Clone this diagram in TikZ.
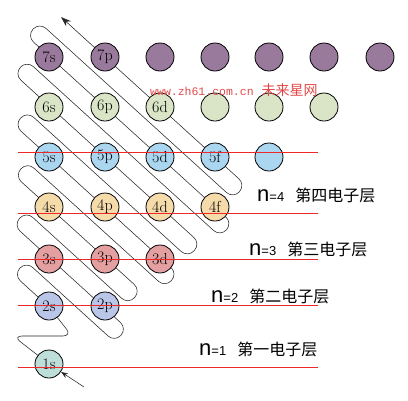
\documentclass[tikz,border=0pt]{standalone}
\usepackage{fontspec}
\usetikzlibrary{arrows.meta}
\newfontfamily\cjk{Noto Sans CJK SC}
\newfontfamily\arial{Liberation Sans}
\newfontfamily\wmfont{Liberation Mono}
\definecolor{orbseven}{RGB}{154,122,156}
\definecolor{orbsix}{RGB}{218,229,200}
\definecolor{orbfive}{RGB}{170,214,240}
\definecolor{orbfour}{RGB}{245,218,170}
\definecolor{orbthree}{RGB}{228,160,160}
\definecolor{orbtwo}{RGB}{185,198,232}
\definecolor{orbone}{RGB}{190,222,218}
\definecolor{shellred}{RGB}{236,40,40}
\definecolor{markred}{RGB}{226,72,72}
\newcommand{\shelltext}[2]{{\arial\fontsize{22}{22}\selectfont n}{\arial\fontsize{13}{13}\selectfont =#1}\hspace{11pt}{\cjk\fontsize{16}{16}\selectfont #2}}
\begin{document}
\begin{tikzpicture}[x=1pt,y=-1pt,
    orb/.style={circle,draw=black,line width=0.8pt,minimum size=28pt,inner sep=0pt,font=\fontsize{16}{16}\selectfont},
    aufbau/.style={line width=0.55pt,draw=black!85,rounded corners=9pt},
    shell/.style={draw=shellred,line width=1.1pt},
    lbl/.style={anchor=base west,inner sep=0pt}]
    \useasboundingbox (0,0) rectangle (408,400);
    % filling order path (drawn under the orbitals)
    \draw[aufbau,-{Stealth[length=10pt,width=7pt]}] (49,364) -- (13,336) -- (72,336) -- (49,307)
        -- (13.7,274.9) -- (26.0,261.4) -- (114.8,342.1) -- (127.1,328.5)
        -- (13.4,225.1) -- (26.0,211.3) -- (128.4,304.4) -- (140.9,290.5)
        -- (14.6,175.7) -- (27.2,162.0) -- (165.2,287.4) -- (177.7,273.6)
        -- (14.3,125.1) -- (26.9,111.2) -- (187.9,257.6) -- (200.6,243.6)
        -- (14.2,74.1) -- (26.6,60.5) -- (220.3,236.6) -- (232.6,223.1)
        -- (26.8,36.0) -- (39.3,22.3) -- (233.2,198.6) -- (245.6,184.9)
        -- (61.1,17.1);
    \node[orb,fill=orbseven] (s7) at (49,57) {7s};
    \node[orb,fill=orbseven] (p7) at (105,57) {7p};
    \node[orb,fill=orbseven] (d7) at (160,57) {};
    \node[orb,fill=orbseven] (f7) at (215,57) {};
    \node[orb,fill=orbseven] (g7) at (269,57) {};
    \node[orb,fill=orbseven] (h7) at (324,57) {};
    \node[orb,fill=orbseven] (i7) at (380,57) {};
    \node[orb,fill=orbsix] (s6) at (49,107) {6s};
    \node[orb,fill=orbsix] (p6) at (105,107) {6p};
    \node[orb,fill=orbsix] (d6) at (160,107) {6d};
    \node[orb,fill=orbsix] (f6) at (215,107) {};
    \node[orb,fill=orbsix] (g6) at (269,107) {};
    \node[orb,fill=orbsix] (h6) at (324,107) {};
    \node[orb,fill=orbfive] (s5) at (49,157) {5s};
    \node[orb,fill=orbfive] (p5) at (105,157) {5p};
    \node[orb,fill=orbfive] (d5) at (160,157) {5d};
    \node[orb,fill=orbfive] (f5) at (215,157) {5f};
    \node[orb,fill=orbfive] (g5) at (269,157) {};
    \node[orb,fill=orbfour] (s4) at (49,207) {4s};
    \node[orb,fill=orbfour] (p4) at (105,207) {4p};
    \node[orb,fill=orbfour] (d4) at (160,207) {4d};
    \node[orb,fill=orbfour] (f4) at (215,207) {4f};
    \node[orb,fill=orbthree] (s3) at (49,259) {3s};
    \node[orb,fill=orbthree] (p3) at (105,259) {3p};
    \node[orb,fill=orbthree] (d3) at (160,259) {3d};
    \node[orb,fill=orbtwo] (s2) at (49,306) {2s};
    \node[orb,fill=orbtwo] (p2) at (105,306) {2p};
    \node[orb,fill=orbone] (s1) at (49,364) {1s};
    \coordinate (start) at (84,387);
    \draw[aufbau,-{Stealth[length=7pt,width=5pt]}] (start) -- (s1);
    % shell lines
    \draw[shell] (18,152.5) -- (318,152.5);
    \draw[shell] (18,213.5) -- (318,213.5);
    \draw[shell] (18,259.5) -- (318,259.5);
    \draw[shell] (18,305.5) -- (318,305.5);
    \draw[shell] (18,367.5) -- (318,367.5);
    \node[lbl] (n4) at (257,201) {\shelltext{4}{第四电子层}};
    \node[lbl] (n3) at (249,255) {\shelltext{3}{第三电子层}};
    \node[lbl] (n2) at (211,302) {\shelltext{2}{第二电子层}};
    \node[lbl] (n1) at (199,355) {\shelltext{1}{第一电子层}};
    \node[lbl,text=markred] (mark) at (150,95) {{\wmfont\fontsize{11.5}{12}\selectfont www.zh61.com.cn}\hspace{8pt}{\cjk\fontsize{14}{14}\selectfont 未来星网}};
\end{tikzpicture}
\end{document}
